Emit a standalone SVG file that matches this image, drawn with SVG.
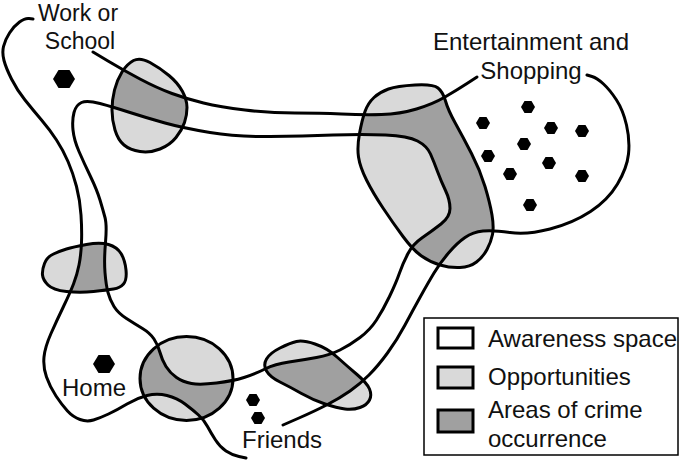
<svg xmlns="http://www.w3.org/2000/svg" xmlns:xlink="http://www.w3.org/1999/xlink" width="685" height="461" viewBox="0 0 685 461">
<style>
.line{fill:none;stroke:#000;stroke-width:3;stroke-linecap:round;stroke-linejoin:round}
.opp{fill:#d9d9d9}
.crime{fill:#a0a0a0}
.outline{fill:none;stroke:#000;stroke-width:3;stroke-linejoin:round}
.lbl{font-family:"Liberation Sans",Arial,sans-serif;font-size:24px;fill:#111}
.hex{fill:#000}
</style>
<defs>
<path id="hexL" d="M-11,0 L-5.5,-9 L5.5,-9 L11,0 L5.5,9 L-5.5,9 Z"/>
<path id="hexS" d="M-7,0 L-3.5,-6 L3.5,-6 L7,0 L3.5,6 L-3.5,6 Z"/>
<path id="blobWork" d="M133.5,60.5 Q140,57 150,62.5 Q160,68 169,75.5 Q178,83 182.5,91.5 Q187,100 187,107.5 Q187,115 184.5,122.5 Q182,130 176,137.5 Q170,145 160,149 Q150,153 140,151.5 Q130,150 124,145 Q118,140 115,130 Q112,120 112,110 Q112,100 114.5,90 Q117,80 122,72 Q127,64 133.5,60.5 Z"/>
<path id="blobLeft" d="M42.5,275 Q42,270 44.5,263.5 Q47,257 53.5,254 Q60,251 66.5,249 Q73,247 86.5,244.5 Q100,242 108.5,244.5 Q117,247 121,253.5 Q125,260 126,270 Q127,280 123.5,284 Q120,288 113.5,289 Q107,290 93.5,291.5 Q80,293 66.5,291.5 Q53,290 48,285 Q43,280 42.5,275 Z"/>
<path id="blobEnt" d="M374,97.5 Q380,92 388.5,89 Q397,86 415,85 Q433,84 438,88 Q443,92 445.5,101 Q448,110 455.5,123.5 Q463,137 471.5,153.5 Q480,170 485,186.5 Q490,203 492,215 Q494,227 492.5,234.5 Q491,242 487,249.5 Q483,257 476.5,262 Q470,267 460,267.5 Q450,268 440,265 Q430,262 421.5,256 Q413,250 403,236.5 Q393,223 383,208 Q373,193 366.5,180 Q360,167 358.5,157 Q357,147 359.5,133.5 Q362,120 365,111.5 Q368,103 374,97.5 Z"/>
<ellipse id="blobHome" cx="186.5" cy="378.5" rx="46.5" ry="42"/>
<path id="blobFriends" d="M266.5,371 Q263,365 266.5,359 Q270,353 280,348 Q290,343 296.5,341.5 Q303,340 315,344 Q327,348 337,357 Q347,366 357,374.5 Q367,383 369.5,389 Q372,395 369.5,400 Q367,405 360,407.5 Q353,410 345,409 Q337,408 325,404 Q313,400 301.5,393.5 Q290,387 280,382 Q270,377 266.5,371 Z"/>
<clipPath id="aw">
<path clip-rule="evenodd" d="M93,52 L108,61 Q123,70 140,79 Q157,88 172,93.5 Q187,99 203.5,103 Q220,107 245,110 Q270,113 295,113 Q320,113 341.5,114 Q363,115 381.5,114.5 Q400,114 416.5,109 Q433,104 445,97 Q457,90 467,83.5 L477,77 L587,75 L592,76.5 Q597,78 603.5,84 Q610,90 616.5,100 Q623,110 626.5,125 Q630,140 628.5,154 Q627,168 617.5,184 Q608,200 590.5,211.5 Q573,223 550,229 Q527,235 510,232.5 Q493,230 483,231 Q473,232 465,237.5 Q457,243 448.5,253 Q440,263 434,273 Q428,283 420.5,296.5 Q413,310 405,325 Q397,340 387.5,353 Q378,366 369,375 Q360,384 350,391 Q340,398 327.5,404.5 Q315,411 299,418 L283,425 L246,458 L239,456.5 Q232,455 226,451 Q220,447 215.5,440 Q211,433 207.5,426.5 Q204,420 198.5,415 Q193,410 185,404 Q177,398 167,395.5 Q157,393 147,395.5 Q137,398 127,404 Q117,410 108.5,414 Q100,418 93.5,420 Q87,422 80,419.5 Q73,417 67.5,411 Q62,405 56,396 Q50,387 46.5,377 Q43,367 44,357 Q45,347 51,333.5 Q57,320 63.5,306.5 Q70,293 73.5,284 Q77,275 79,265 Q81,255 81.5,242.5 Q82,230 81,215 Q80,200 76.5,186.5 Q73,173 68,161.5 Q63,150 56.5,140 Q50,130 41.5,120 Q33,110 25,100 Q17,90 11.5,79 Q6,68 4,60.5 Q2,53 3.5,46.5 Q5,40 9.5,33 Q14,26 19.5,22 Q25,18 29,18.5 L33,19 Z M81.5,102.5 Q87,100 100,103.5 Q113,107 130,112.5 Q147,118 165,123 Q183,128 210,132.5 Q237,137 270,136.5 Q303,136 333,135 Q363,134 385.5,135 Q408,136 417.5,141 Q427,146 430.5,154 Q434,162 437.5,171.5 Q441,181 445.5,190.5 Q450,200 450,208.5 Q450,217 441,224 Q432,231 422.5,237.5 Q413,244 408,253.5 Q403,263 399.5,273 Q396,283 389.5,296.5 Q383,310 376.5,320 Q370,330 360,337.5 Q350,345 340,350 Q330,355 316.5,357.5 Q303,360 289,362 Q275,364 265,369 Q255,374 244,377.5 Q233,381 216.5,383 Q200,385 191.5,383.5 Q183,382 176.5,377.5 Q170,373 166,366.5 Q162,360 160,352.5 Q158,345 154,339 Q150,333 142.5,328.5 Q135,324 126.5,318.5 Q118,313 114,306.5 Q110,300 108,292.5 Q106,285 105,272.5 Q104,260 105.5,242.5 Q107,225 105,217.5 Q103,210 100,200 Q97,190 90.5,176.5 Q84,163 79,151.5 Q74,140 73,130 Q72,120 74,112.5 Q76,105 81.5,102.5 Z"/>
</clipPath>
</defs>
<rect width="685" height="461" fill="#fff"/>

<g id="work-school-area">
<use xlink:href="#blobWork" class="opp"/>
<use xlink:href="#blobWork" class="crime" clip-path="url(#aw)"/>
<use xlink:href="#blobWork" class="outline"/>
</g>
<g id="left-area">
<use xlink:href="#blobLeft" class="opp"/>
<use xlink:href="#blobLeft" class="crime" clip-path="url(#aw)"/>
<use xlink:href="#blobLeft" class="outline"/>
</g>
<g id="entertainment-area">
<use xlink:href="#blobEnt" class="opp"/>
<use xlink:href="#blobEnt" class="crime" clip-path="url(#aw)"/>
<use xlink:href="#blobEnt" class="outline"/>
</g>
<g id="home-area">
<use xlink:href="#blobHome" class="opp"/>
<use xlink:href="#blobHome" class="crime" clip-path="url(#aw)"/>
<use xlink:href="#blobHome" class="outline"/>
</g>
<g id="friends-area">
<use xlink:href="#blobFriends" class="opp"/>
<use xlink:href="#blobFriends" class="crime" clip-path="url(#aw)"/>
<use xlink:href="#blobFriends" class="outline"/>
</g>

<g id="awareness-space">
<path class="line" d="M93,52 L108,61 Q123,70 140,79 Q157,88 172,93.5 Q187,99 203.5,103 Q220,107 245,110 Q270,113 295,113 Q320,113 341.5,114 Q363,115 381.5,114.5 Q400,114 416.5,109 Q433,104 445,97 Q457,90 467,83.5 L477,77"/>
<path class="line" d="M587,75 L592,76.5 Q597,78 603.5,84 Q610,90 616.5,100 Q623,110 626.5,125 Q630,140 628.5,154 Q627,168 617.5,184 Q608,200 590.5,211.5 Q573,223 550,229 Q527,235 510,232.5 Q493,230 483,231 Q473,232 465,237.5 Q457,243 448.5,253 Q440,263 434,273 Q428,283 420.5,296.5 Q413,310 405,325 Q397,340 387.5,353 Q378,366 369,375 Q360,384 350,391 Q340,398 327.5,404.5 Q315,411 299,418 L283,425"/>
<path class="line" d="M246,458 L239,456.5 Q232,455 226,451 Q220,447 215.5,440 Q211,433 207.5,426.5 Q204,420 198.5,415 Q193,410 185,404 Q177,398 167,395.5 Q157,393 147,395.5 Q137,398 127,404 Q117,410 108.5,414 Q100,418 93.5,420 Q87,422 80,419.5 Q73,417 67.5,411 Q62,405 56,396 Q50,387 46.5,377 Q43,367 44,357 Q45,347 51,333.5 Q57,320 63.5,306.5 Q70,293 73.5,284 Q77,275 79,265 Q81,255 81.5,242.5 Q82,230 81,215 Q80,200 76.5,186.5 Q73,173 68,161.5 Q63,150 56.5,140 Q50,130 41.5,120 Q33,110 25,100 Q17,90 11.5,79 Q6,68 4,60.5 Q2,53 3.5,46.5 Q5,40 9.5,33 Q14,26 19.5,22 Q25,18 29,18.5 L33,19"/>
<path class="line" d="M81.5,102.5 Q87,100 100,103.5 Q113,107 130,112.5 Q147,118 165,123 Q183,128 210,132.5 Q237,137 270,136.5 Q303,136 333,135 Q363,134 385.5,135 Q408,136 417.5,141 Q427,146 430.5,154 Q434,162 437.5,171.5 Q441,181 445.5,190.5 Q450,200 450,208.5 Q450,217 441,224 Q432,231 422.5,237.5 Q413,244 408,253.5 Q403,263 399.5,273 Q396,283 389.5,296.5 Q383,310 376.5,320 Q370,330 360,337.5 Q350,345 340,350 Q330,355 316.5,357.5 Q303,360 289,362 Q275,364 265,369 Q255,374 244,377.5 Q233,381 216.5,383 Q200,385 191.5,383.5 Q183,382 176.5,377.5 Q170,373 166,366.5 Q162,360 160,352.5 Q158,345 154,339 Q150,333 142.5,328.5 Q135,324 126.5,318.5 Q118,313 114,306.5 Q110,300 108,292.5 Q106,285 105,272.5 Q104,260 105.5,242.5 Q107,225 105,217.5 Q103,210 100,200 Q97,190 90.5,176.5 Q84,163 79,151.5 Q74,140 73,130 Q72,120 74,112.5 Q76,105 81.5,102.5 Z"/>
</g>

<g id="targets">
<use xlink:href="#hexL" class="hex" x="64" y="79"/>
<use xlink:href="#hexL" class="hex" x="104" y="364"/>
<use xlink:href="#hexS" class="hex" x="253" y="400"/>
<use xlink:href="#hexS" class="hex" x="258" y="418"/>
<use xlink:href="#hexS" class="hex" x="528" y="107"/>
<use xlink:href="#hexS" class="hex" x="483" y="123"/>
<use xlink:href="#hexS" class="hex" x="551" y="128"/>
<use xlink:href="#hexS" class="hex" x="582" y="131"/>
<use xlink:href="#hexS" class="hex" x="524" y="144"/>
<use xlink:href="#hexS" class="hex" x="488" y="156"/>
<use xlink:href="#hexS" class="hex" x="549" y="163"/>
<use xlink:href="#hexS" class="hex" x="510" y="174"/>
<use xlink:href="#hexS" class="hex" x="582" y="176"/>
<use xlink:href="#hexS" class="hex" x="530" y="205"/>
</g>

<g id="labels">
<text class="lbl" x="78" y="21" text-anchor="middle" style="font-size:23px">Work or</text>
<text class="lbl" x="80" y="49" text-anchor="middle" style="font-size:23px">School</text>
<text class="lbl" x="531" y="50" text-anchor="middle">Entertainment and</text>
<text class="lbl" x="531" y="79" text-anchor="middle">Shopping</text>
<text class="lbl" x="62" y="396">Home</text>
<text class="lbl" x="242" y="448">Friends</text>
</g>

<g id="legend">
<rect x="424" y="318" width="254" height="137" fill="#fff" stroke="#000" stroke-width="1.5"/>
<rect x="438" y="328" width="35" height="20" fill="#fff" stroke="#000" stroke-width="3"/>
<rect x="438" y="367" width="35" height="21" fill="#d9d9d9" stroke="#000" stroke-width="3"/>
<rect x="438" y="410" width="35" height="22" fill="#a0a0a0" stroke="#000" stroke-width="3"/>
<text class="lbl" x="488" y="347">Awareness space</text>
<text class="lbl" x="488" y="385">Opportunities</text>
<text class="lbl" x="488" y="418">Areas of crime</text>
<text class="lbl" x="488" y="447">occurrence</text>
</g>
</svg>
